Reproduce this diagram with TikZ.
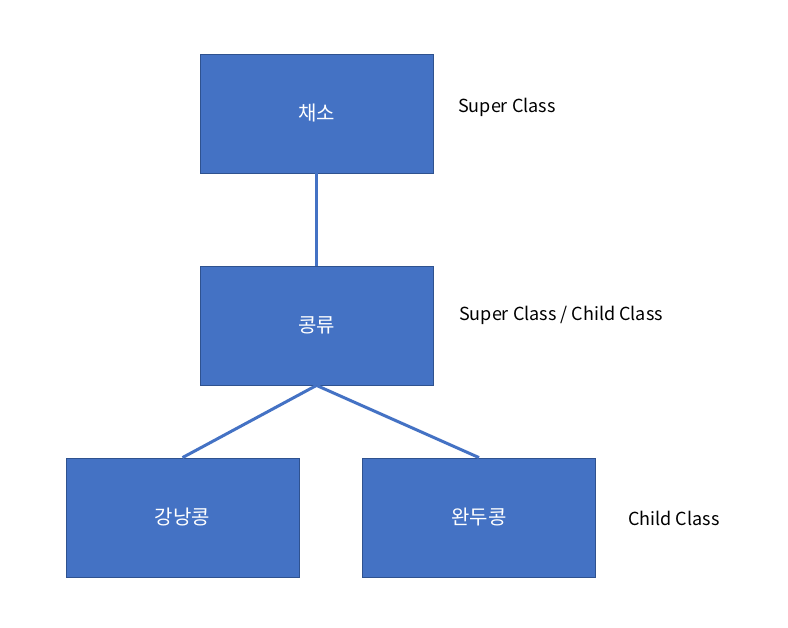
\documentclass[tikz,border=0pt]{standalone}
\usepackage{fontspec}
\setmainfont{Noto Sans CJK KR}
\definecolor{boxfill}{HTML}{4472C4}
\definecolor{boxline}{HTML}{2F528F}
\begin{document}
\begin{tikzpicture}[x=1pt,y=-1pt,
  cls/.style={draw=boxline,line width=0.8pt,fill=boxfill,text=white,minimum width=233pt,minimum height=119pt,inner sep=0pt,font=\fontsize{20}{24}\selectfont},
  lbl/.style={anchor=west,inner sep=0pt,font=\fontsize{18}{22}\selectfont},
  link/.style={draw=boxfill,line width=3pt}]
\useasboundingbox (0,0) rectangle (788,628);
\node[cls] (veg) at (316.5,113.5) {채소};
\node[cls] (bean) at (316.5,325.5) {콩류};
\node[cls] (kid) at (182.5,517.5) {강낭콩};
\node[cls] (pea) at (479,517.5) {완두콩};
\node[lbl] (l1) at (458,107) {Super Class};
\node[lbl] (l2) at (459,315) {Super Class / Child Class};
\node[lbl] (l3) at (628,518) {Child Class};
\draw[link] (veg.south) -- (bean.north);
\draw[link] (bean.south) -- (kid.north);
\draw[link] (bean.south) -- (pea.north);
\end{tikzpicture}
\end{document}
